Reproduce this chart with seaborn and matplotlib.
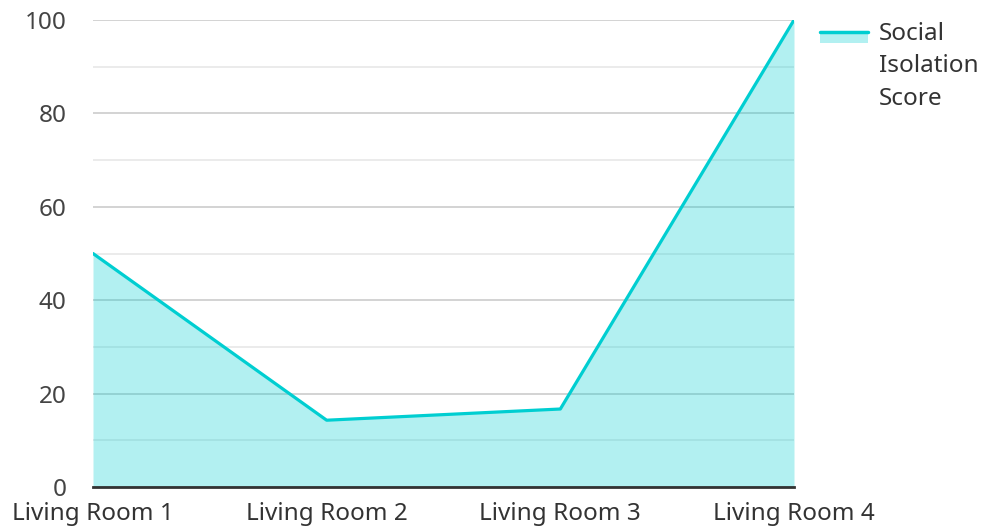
import matplotlib
matplotlib.use("Agg")
import matplotlib.pyplot as plt
import seaborn as sns
import pandas as pd
from matplotlib.lines import Line2D
from matplotlib.patches import Rectangle

# dados do grafico
salas = ["Living Room 1", "Living Room 2", "Living Room 3", "Living Room 4"]
isolamento = [50, 14.3, 16.7, 100]
serie = "Social\nIsolation\nScore"

sns.set_style("white")
plt.rcParams['font.family'] = ['Noto Sans', 'DejaVu Sans']

cor = "#00ced1"
texto = "#333333"

df = pd.DataFrame({"sala": salas, "valor": isolamento})
df["x"] = range(len(salas))

fig = plt.figure(figsize=(9.83, 5.29), dpi=100)
ax = fig.add_axes([93 / 983, 1 - 487 / 529, (794 - 93) / 983, (487 - 20) / 529])

ax.fill_between(df["x"], df["valor"], 0, color=cor, alpha=0.3, linewidth=0, zorder=3)
sns.lineplot(data=df, x="x", y="valor", color=cor, linewidth=2.3, ax=ax, zorder=4)

ax.set_xlim(0, len(salas) - 1)
ax.set_ylim(0, 100)
ax.set_yticks(range(0, 101, 20))
ax.set_yticks(range(10, 100, 20), minor=True)
ax.set_xticks(df["x"])
ax.set_xticklabels(salas)
ax.grid(axis="y", which="major", color="#c8c8c8", linewidth=1.1, zorder=1)
ax.grid(axis="y", which="minor", color="#e6e6e6", linewidth=1.1, zorder=1)
ax.set_axisbelow(True)
ax.tick_params(axis="y", which="both", length=0, pad=19, labelsize=17.5, labelcolor="#444444")
ax.tick_params(axis="x", length=0, pad=10.5, labelsize=17.5, labelcolor=texto)
ax.set_xlabel("")
ax.set_ylabel("")
for lado in ["left", "right", "top"]:
    ax.spines[lado].set_visible(False)
ax.spines["bottom"].set_color("#333333")
ax.spines["bottom"].set_linewidth(2)
ax.spines["bottom"].set_zorder(5)

# legenda manual
fig.patches.append(Rectangle((820 / 983, 1 - 43 / 529), 48 / 983, 11 / 529,
                             transform=fig.transFigure, color=cor, alpha=0.3, linewidth=0))
fig.lines.append(Line2D([820 / 983, 868 / 983], [1 - 32 / 529, 1 - 32 / 529],
                        transform=fig.transFigure, color=cor, linewidth=2.5))
fig.text(879 / 983, 1 - 22 / 529, serie, fontsize=17.5, color=texto, va="top", ha="left",
         linespacing=1.46)

fig.savefig("out.png", dpi=100)
